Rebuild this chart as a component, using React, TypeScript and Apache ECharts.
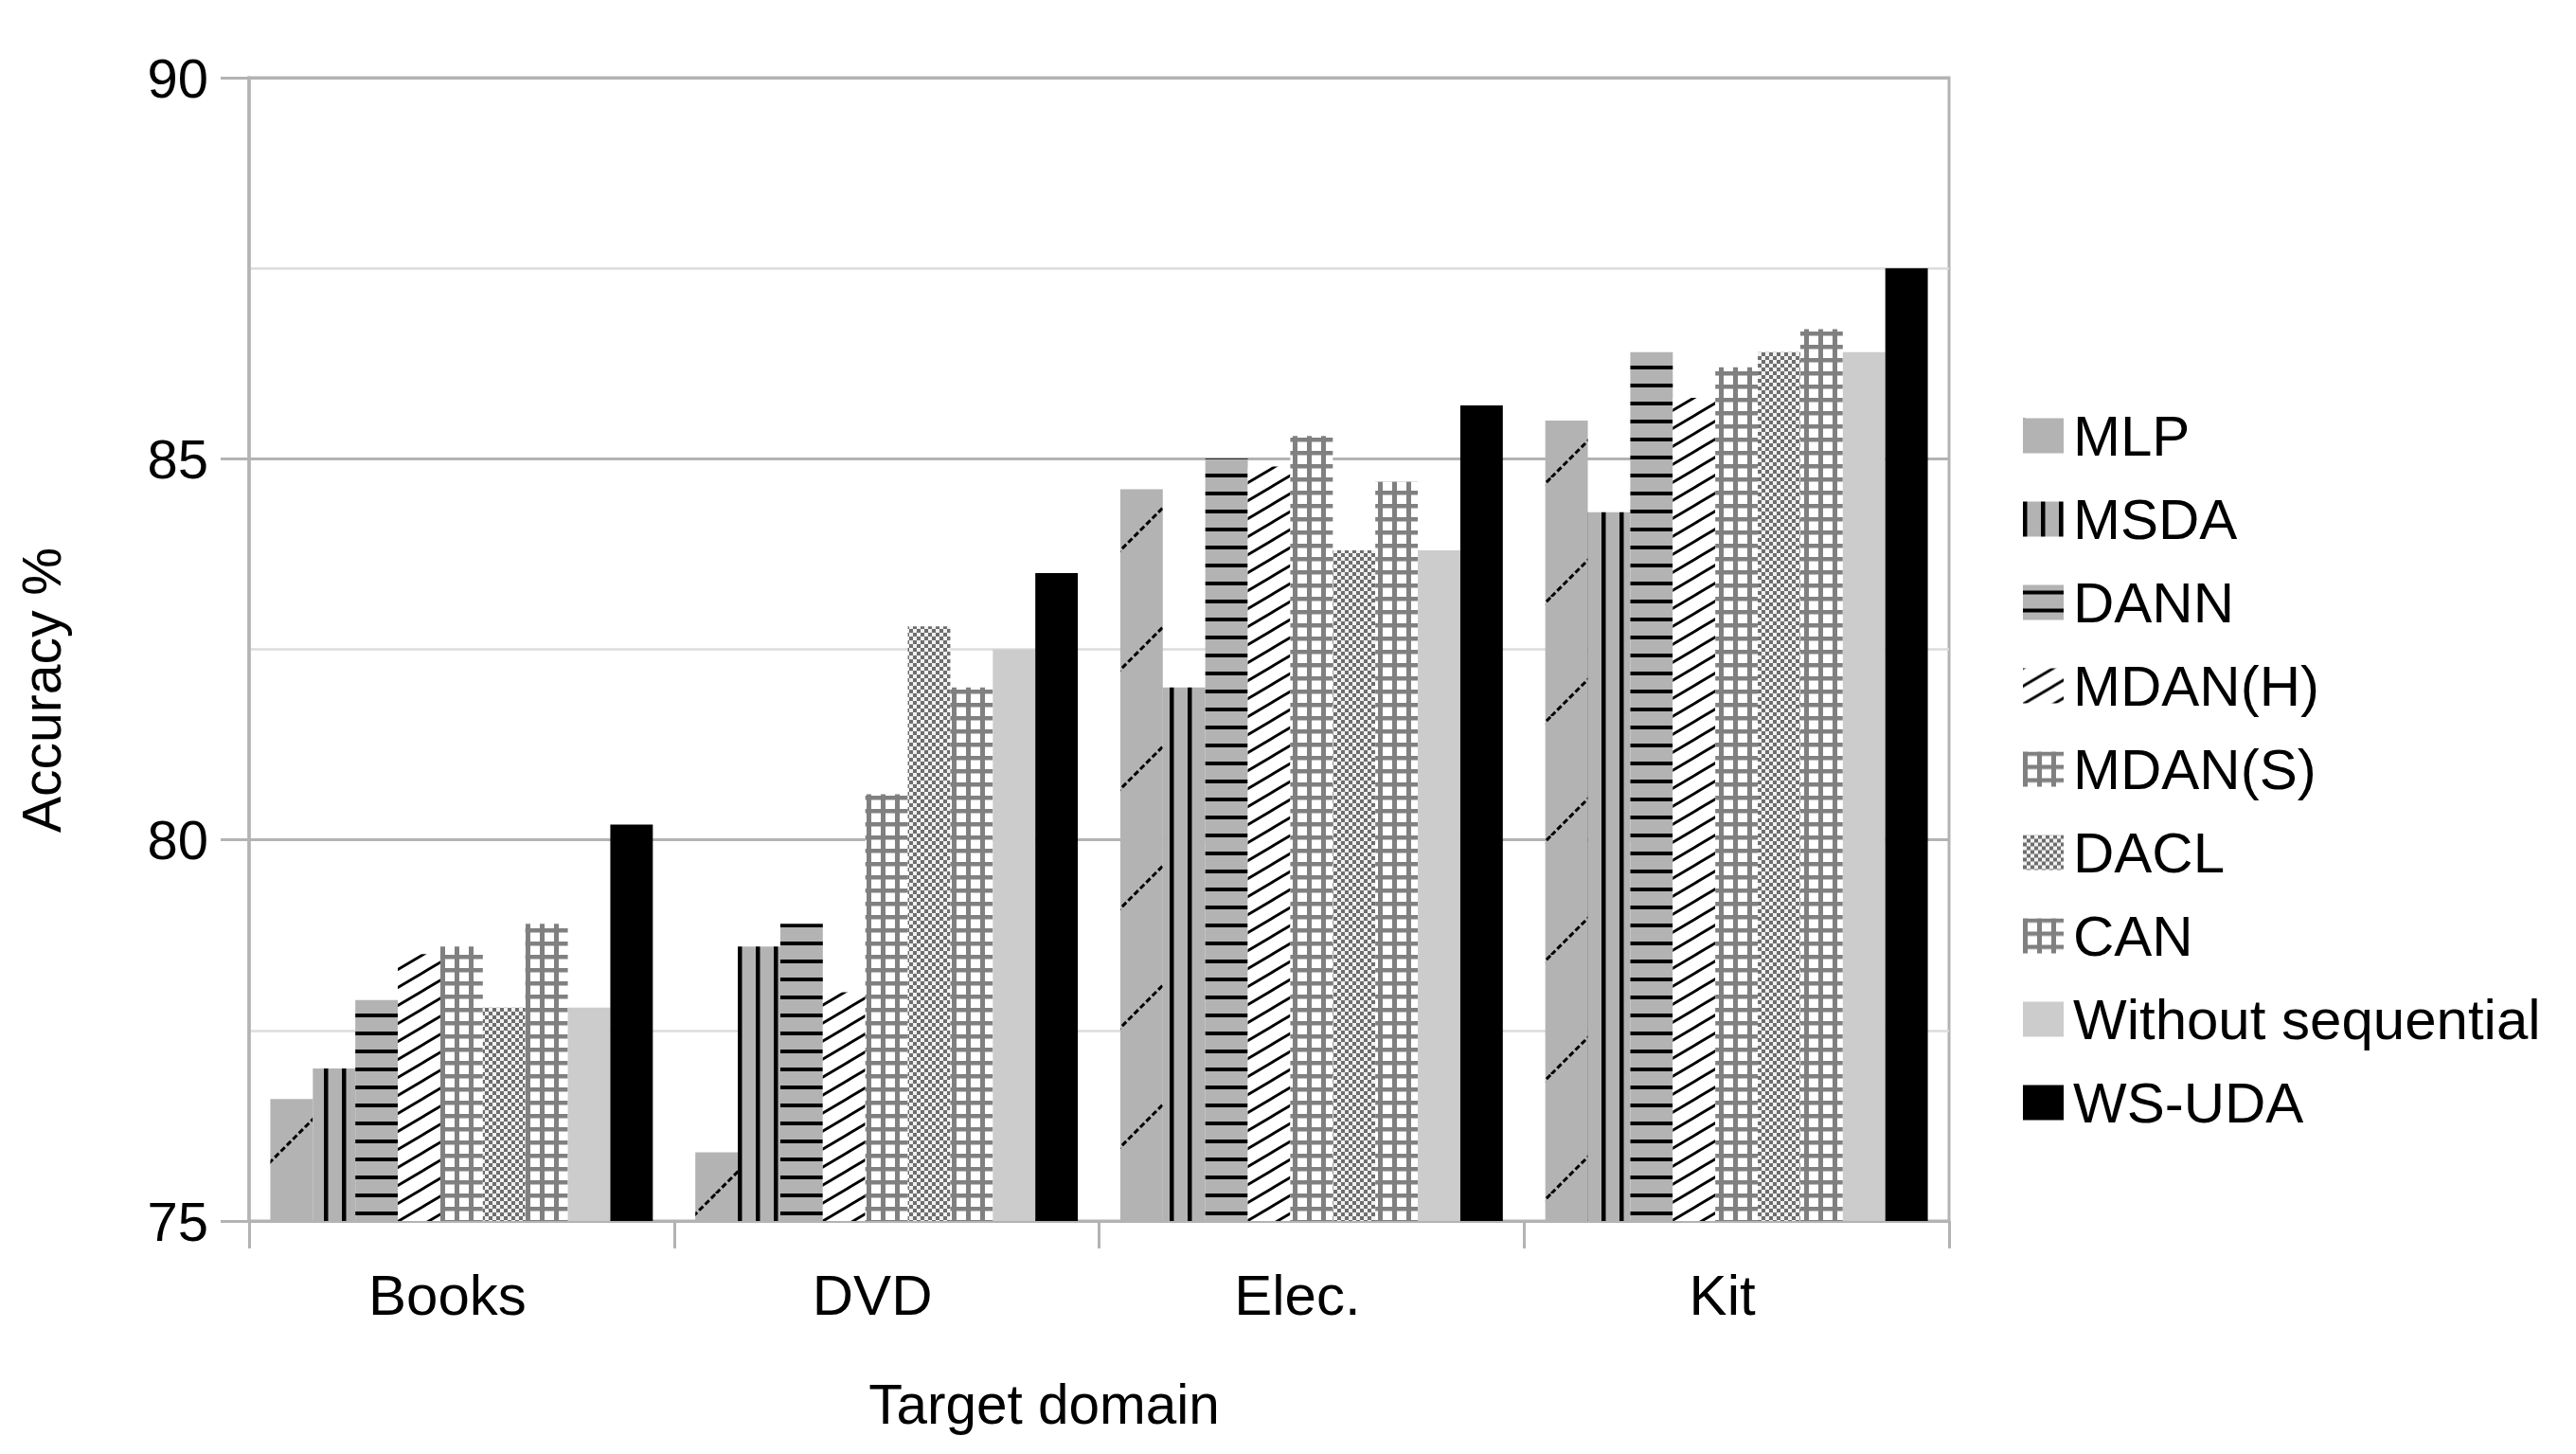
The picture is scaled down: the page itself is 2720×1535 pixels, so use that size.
import React, { useEffect, useRef } from 'react';
import * as echarts from 'echarts';

// ---- data ----
const categories = ['Books', 'DVD', 'Elec.', 'Kit'];
const seriesNames = ['MLP', 'MSDA', 'DANN', 'MDAN(H)', 'MDAN(S)', 'DACL', 'CAN', 'Without sequential', 'WS-UDA'];
const mlp = [76.6, 75.9, 84.6, 85.5];
const msda = [77.0, 78.6, 82.0, 84.3];
const dann = [77.9, 78.9, 85.0, 86.4];
const mdanH = [78.5, 78.0, 84.9, 85.8];
const mdanS = [78.6, 80.6, 85.3, 86.2];
const dacl = [77.8, 82.8, 83.8, 86.4];
const can = [78.9, 82.0, 84.7, 86.7];
const withoutSeq = [77.8, 82.5, 83.8, 86.4];
const wsUda = [80.2, 83.5, 85.7, 87.5];
const yMin = 75;
const yMax = 90;
const yStep = 5;

const FONT = 'Liberation Sans';
const AXIS_GRAY = '#b3b3b3';

type Draw = (ctx: CanvasRenderingContext2D, w: number, h: number) => void;

function makePattern(w: number, h: number, bg: string, draw: Draw) {
  const c = document.createElement('canvas');
  c.width = w;
  c.height = h;
  const ctx = c.getContext('2d') as CanvasRenderingContext2D;
  ctx.fillStyle = bg;
  ctx.fillRect(0, 0, w, h);
  draw(ctx, w, h);
  return { image: c.toDataURL('image/png'), repeat: 'repeat', imageWidth: w, imageHeight: h };
}

function buildPatterns() {
  const mlpP = makePattern(126, 126, '#b3b3b3', (ctx, w, h) => {
    ctx.strokeStyle = '#000';
    ctx.lineWidth = 3;
    ctx.setLineDash([6, 3]);
    for (let k = -1; k <= 1; k++) {
      ctx.beginPath();
      ctx.moveTo(k * w, h);
      ctx.lineTo(k * w + w, 0);
      ctx.stroke();
    }
  });
  const msdaP = makePattern(19, 19, '#b3b3b3', (ctx, w, h) => {
    ctx.fillStyle = '#000';
    ctx.fillRect(0, 0, 4.5, h);
  });
  const dannP = makePattern(19, 19, '#b3b3b3', (ctx, w, h) => {
    ctx.fillStyle = '#000';
    ctx.fillRect(0, 6, w, 4);
  });
  const mdanHP = makePattern(32, 19, '#ffffff', (ctx, w, h) => {
    ctx.strokeStyle = '#000';
    ctx.lineWidth = 2.8;
    for (let k = -2; k <= 2; k++) {
      ctx.beginPath();
      ctx.moveTo(-w, h + h + k * h);
      ctx.lineTo(2 * w, h - 2 * h + k * h);
      ctx.stroke();
    }
  });
  const gridP = makePattern(15, 14, '#ffffff', (ctx, w, h) => {
    ctx.fillStyle = '#808080';
    ctx.fillRect(0, 0, 5, h);
    ctx.fillRect(0, 0, w, 4.5);
  });
  const daclP = makePattern(8, 8, '#f0f0f0', (ctx) => {
    ctx.fillStyle = '#6e6e6e';
    ctx.fillRect(0, 0, 4, 4);
    ctx.fillRect(4, 4, 4, 4);
  });
  return [mlpP, msdaP, dannP, mdanHP, gridP, daclP, gridP, '#cccccc', '#000000'];
}

const seriesData = [mlp, msda, dann, mdanH, mdanS, dacl, can, withoutSeq, wsUda];

export default function App() {
  const ref = useRef<HTMLDivElement>(null);

  useEffect(() => {
    if (!ref.current) return;
    const chart = echarts.init(ref.current, undefined, { renderer: 'svg' });
    const fills = buildPatterns();
    const option: any = {
      animation: false,
      textStyle: { fontFamily: FONT },
      grid: {
        left: 263,
        right: 662,
        top: 82,
        bottom: 246,
        show: true,
        borderColor: AXIS_GRAY,
        borderWidth: 3,
        backgroundColor: 'transparent',
      },
      legend: {
        orient: 'vertical',
        left: 2131,
        top: 425,
        itemWidth: 43,
        itemHeight: 37,
        itemGap: 28,
        icon: 'rect',
        selectedMode: false,
        data: seriesNames,
        textStyle: {
          color: '#000',
          fontSize: 60,
          lineHeight: 60,
          fontFamily: FONT,
          padding: [0, 0, 0, 5],
        },
      },
      xAxis: {
        type: 'category',
        data: categories,
        axisLine: { show: true, lineStyle: { color: AXIS_GRAY, width: 3 } },
        axisTick: { show: true, length: 29, lineStyle: { color: AXIS_GRAY, width: 3 } },
        axisLabel: { color: '#000', fontSize: 60, margin: 48, fontFamily: FONT, padding: [0, 30, 0, 0] },
        splitLine: { show: false },
        name: 'Target domain',
        nameLocation: 'middle',
        nameGap: 164,
        nameTextStyle: { color: '#000', fontSize: 58.5, fontFamily: FONT, padding: [0, 116, 0, 0] },
      },
      yAxis: {
        type: 'value',
        min: yMin,
        max: yMax,
        interval: yStep,
        axisLine: { show: true, lineStyle: { color: AXIS_GRAY, width: 3.5 } },
        axisTick: { show: true, length: 30, lineStyle: { color: AXIS_GRAY, width: 3 } },
        axisLabel: { color: '#000', fontSize: 58, margin: 43, fontFamily: FONT, padding: [0, 0, 8, 0] },
        splitLine: { show: true, lineStyle: { color: AXIS_GRAY, width: 3 } },
        minorTick: { show: false, splitNumber: 2 },
        minorSplitLine: { show: true, lineStyle: { color: '#dcdcdc', width: 2.5 } },
        name: 'Accuracy %',
        nameLocation: 'middle',
        nameGap: 191,
        nameTextStyle: { color: '#000', fontSize: 57, fontFamily: FONT, padding: [0, 86, 0, 0] },
      },
      series: seriesNames.map((name, i) => ({
        name,
        type: 'bar',
        data: seriesData[i],
        barGap: '0%',
        barCategoryGap: '10%',
        itemStyle: { color: fills[i] },
        emphasis: { disabled: true },
      })),
    };
    chart.setOption(option);
    return () => {
      chart.dispose();
    };
  }, []);

  return (
    <div
      ref={ref}
      style={{ position: 'fixed', left: 0, top: 0, width: 2720, height: 1535, background: '#fff' }}
    />
  );
}
